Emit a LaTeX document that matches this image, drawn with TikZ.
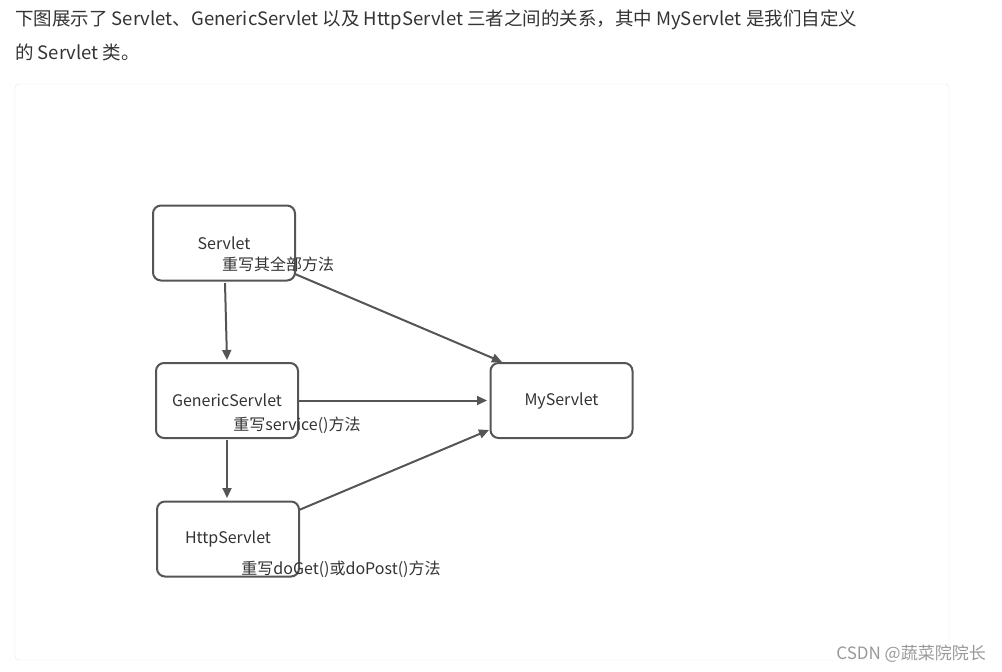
\documentclass[tikz,border=0pt]{standalone}
\usepackage{fontspec}
\setmainfont{Noto Sans CJK SC}
\usetikzlibrary{arrows.meta}
\definecolor{ink}{HTML}{555555}
\definecolor{txt}{HTML}{333333}
\tikzset{
  cls/.style={draw=ink,line width=2pt,rounded corners=8pt,fill=white,minimum width=142pt,minimum height=75pt,text=txt,font=\fontsize{16}{18}\selectfont},
  lab/.style={text=txt,font=\fontsize{16}{18}\selectfont,inner sep=0pt},
  arr/.style={draw=ink,line width=2pt,-{Triangle[length=10pt,width=9pt]}}
}
\begin{document}
\begin{tikzpicture}[x=1pt,y=-1pt]
\useasboundingbox (0,0) rectangle (1002,672);
\node[anchor=west,inner sep=0pt,text=txt,font=\fontsize{18.5}{22}\selectfont] (h1) at (15,20) {下图展示了 Servlet、GenericServlet 以及 HttpServlet 三者之间的关系，其中 MyServlet 是我们自定义};
\node[anchor=west,inner sep=0pt,text=txt,font=\fontsize{18.5}{22}\selectfont] (h2) at (15,52) {的 Servlet 类。};
\draw[draw=black!10,rounded corners=4pt] (15,84) rectangle (949,660);
\node[cls] (s) at (224,243) {Servlet};
\node[cls] (g) at (227,400.5) {GenericServlet};
\node[cls] (h) at (228,539) {HttpServlet};
\node[cls] (m) at (561.5,400.5) {MyServlet};
\node[lab] (l1) at (278,264) {重写其全部方法};
\node[lab] (l2) at (297,425) {重写service()方法};
\node[lab] (l3) at (341,569) {重写doGet()或doPost()方法};
\draw[arr] (225,283) -- (227,360);
\draw[arr] (227,440) -- (227,498);
\draw[arr] (295,274) -- (502,362);
\draw[arr] (299,400.5) -- (487,400.5);
\draw[arr] (299,510) -- (489,430);
\node[anchor=east,inner sep=0pt,text=black!40,font=\fontsize{17}{20}\selectfont] (wm) at (986,654) {CSDN @蔬菜院院长};
\end{tikzpicture}
\end{document}
